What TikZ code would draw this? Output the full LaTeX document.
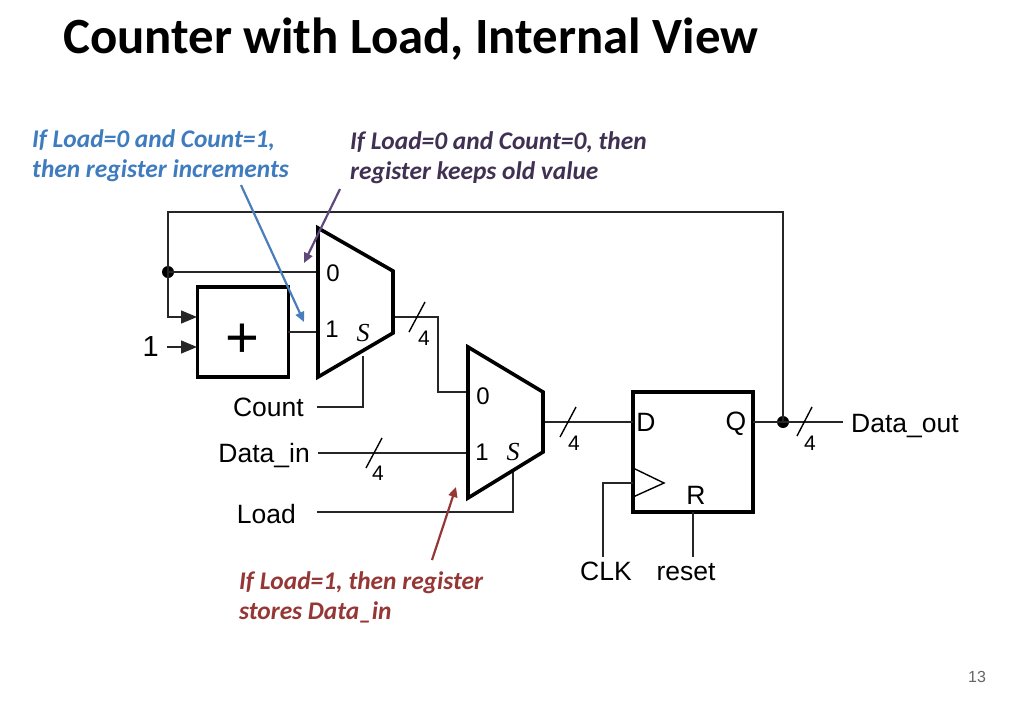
\documentclass[tikz,border=0pt]{standalone}
\usepackage{fontspec}
\setmainfont{Liberation Sans}
\newfontfamily\calib{Carlito}
\newfontfamily\serifit{Liberation Serif}
\usetikzlibrary{arrows.meta}
\definecolor{noteblue}{HTML}{3F7CBF}
\definecolor{linkblue}{HTML}{4A7EBB}
\definecolor{notepurple}{HTML}{403152}
\definecolor{linkpurple}{HTML}{5F497A}
\definecolor{notered}{HTML}{953735}
\tikzset{
  x=1pt,y=-1pt,
  wire/.style={line width=1.3pt,black!85},
  heavy/.style={line width=3.6pt,line join=miter,black},
  bus/.style={line width=1.4pt,black},
  txt/.style={inner sep=0pt,font=\fontsize{26.5}{30}\selectfont},
  small/.style={inner sep=0pt,font=\fontsize{24}{26}\selectfont},
  tiny/.style={inner sep=0pt,font=\fontsize{21}{24}\selectfont},
  flab/.style={inner sep=0pt,font=\fontsize{26.5}{28}\selectfont},
  sel/.style={inner sep=0pt,font=\fontsize{26}{28}\serifit\itshape},
  note/.style={inner sep=0pt,align=left,anchor=west,font=\fontsize{25.4}{30}\calib\bfseries\itshape},
  input/.style={-{Triangle[length=16pt,width=13pt]}},
  link/.style={line width=2.2pt,-{Triangle[length=10pt,width=9pt]}},
  junction/.style={circle,fill=black,inner sep=0pt,minimum size=12pt},
  box/.style={draw,line width=3.6pt,inner sep=0pt},
}
\begin{document}
\begin{tikzpicture}
\useasboundingbox[fill=white] (0,0) rectangle (1024,707);
\node[inner sep=0pt,anchor=base west,font=\fontsize{50.8}{56}\calib\bfseries] (title) at (63,53) {Counter with Load, Internal View};
\node[note,text=noteblue] (n1) at (32,155.5) {If Load=0 and Count=1,\\then register increments};
\node[note,text=notepurple] (n2) at (350,158) {If Load=0 and Count=0, then\\register keeps old value};
\node[note,text=notered] (n3) at (239,597.5) {If Load=1, then register\\stores Data\_in};
\node[inner sep=0pt,font=\fontsize{16}{18}\selectfont,text=black!60] (pg) at (977,677) {13};
% blocks
\coordinate (m1a) at (318,228); \coordinate (m1b) at (393,271); \coordinate (m1c) at (393,333); \coordinate (m1d) at (318,377);
\coordinate (m2a) at (468,347); \coordinate (m2b) at (543,392); \coordinate (m2c) at (543,452); \coordinate (m2d) at (468,498);
\node[box,minimum width=91pt,minimum height=90pt] (add) at (243,332) {};
\node[inner sep=0pt,font=\fontsize{58}{58}\selectfont] (plus) at (242,341) {+};
\node[box,minimum width=120pt,minimum height=120pt] (ff) at (693,452) {};
% wire points
\coordinate (m1i0) at (318,272); \coordinate (m1i1) at (318,332); \coordinate (m1o) at (393,317); \coordinate (m1s) at (363,356);
\coordinate (m2i0) at (468,392); \coordinate (m2i1) at (468,453); \coordinate (m2o) at (543,422); \coordinate (m2s) at (513,472);
\coordinate (ffd) at (633,422); \coordinate (ffq) at (753,422); \coordinate (ffc) at (633,483); \coordinate (ffr) at (693,512);
\coordinate (tri1) at (633,468); \coordinate (tri2) at (664,483); \coordinate (tri3) at (633,497);
\coordinate (addin1) at (197,317); \coordinate (addin2) at (197,347); \coordinate (addout) at (288,332);
\coordinate (cnt) at (317,407); \coordinate (din) at (318,453); \coordinate (ld) at (317,512);
\node[junction] (j1) at (168,272) {};
\node[junction] (j2) at (783,422) {};
% labels
\node[txt,anchor=east,font=\fontsize{29}{30}\selectfont] (one) at (159,347) {1};
\node[txt,anchor=east] (count) at (304,407) {Count};
\node[txt,anchor=east] (datain) at (310,456) {Data\_in};
\node[txt,anchor=east] (load) at (296,514) {Load};
\node[txt] (clk) at (606,571) {CLK};
\node[txt] (reset) at (686,572) {reset};
\node[txt,anchor=west] (dout) at (851,426) {Data\_out};
\node[small] at (333,273) {0};
\node[small] at (332,329) {1};
\node[small] at (483,396) {0};
\node[small] at (482,452) {1};
\node[sel] at (363,333) {S};
\node[sel] at (513,452) {S};
\node[flab] at (646,422) {D};
\node[flab] at (736,424) {Q};
\node[flab] at (696,495) {R};
\node[tiny] at (424,338) {4};
\node[tiny] at (574,443) {4};
\node[tiny] at (378,473) {4};
\node[tiny] at (810,443) {4};
% wires
\draw[wire] (j2.center) |- (168,212) -- (j1.center);
\draw[wire] (j1.center) -- (m1i0);
\draw[wire,input] (j1.center) |- (addin1);
\draw[wire,input] (167,347) -- (addin2);
\draw[wire] (addout |- m1i1) -- (m1i1);
\draw[wire] (m1o) -| (438,392) -- (m2i0);
\draw[wire] (cnt) -| (m1s);
\draw[wire] (din) -- (m2i1);
\draw[wire] (ld) -| (m2s);
\draw[wire] (m2o) -- (ffd);
\draw[wire] (ffq) -- (843,422);
\draw[wire] (ffc) -| (603,557);
\draw[wire] (ffr) -- (693,557);
\draw[bus] (409,332) -- (425,302);
\draw[bus] (560,437) -- (576,407);
\draw[bus] (366,468) -- (382,438);
\draw[bus] (797,436) -- (812,407);
\draw[line width=1.4pt] (tri1) -- (tri2) -- (tri3);
% muxes
\draw[heavy] (m1a) -- (m1b) -- (m1c) -- (m1d) -- cycle;
\draw[heavy] (m2a) -- (m2b) -- (m2c) -- (m2d) -- cycle;
% annotation arrows
\draw[link,draw=linkblue,fill=linkblue] (241,185) -- (304,322);
\draw[link,draw=linkpurple,fill=linkpurple] (340,189) -- (304,263);
\draw[link,draw=notered,fill=notered] (432,560) -- (456,487);
\end{tikzpicture}
\end{document}
